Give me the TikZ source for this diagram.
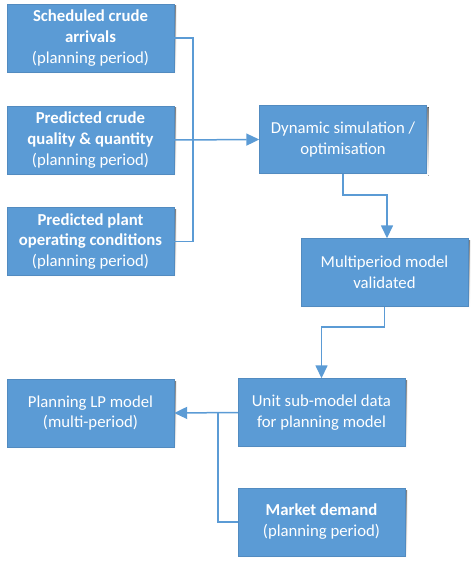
\documentclass[tikz,border=0pt]{standalone}
\usepackage{fontspec}
\setmainfont{Carlito}
\usetikzlibrary{arrows.meta}
\definecolor{boxblue}{HTML}{5B9BD5}
\definecolor{lineblue}{HTML}{5B9BD5}
\definecolor{shade}{HTML}{D5DDE5}
\tikzset{
  box/.style={rectangle, fill=boxblue, draw=boxblue!90!black, line width=0.4bp,
    minimum width=167bp, minimum height=68bp, inner sep=2bp, align=center,
    text=white, font=\fontsize{16.8}{21}\selectfont},
  conn/.style={draw=lineblue, line width=1.5bp},
  arr/.style={conn, -{Triangle[length=13bp,width=12bp]}}
}
\begin{document}
\begin{tikzpicture}[x=1bp,y=-1bp]
\useasboundingbox (0,0) rectangle (474,564);
% shadows
\foreach \cx/\cy in {90.5/38, 90.5/140, 90.5/241.5, 343/139.5, 384.5/272.5, 321.5/412.5, 90.5/413, 321.5/522}
  \fill[shade] (\cx-83.5+2,\cy-34+2) rectangle (\cx+83.5+2,\cy+34+2);
\node[box] (b1) at (90.5,38) {\textbf{Scheduled crude}\\\textbf{arrivals}\\(planning period)};
\node[box] (b2) at (90.5,140) {\textbf{Predicted crude}\\\textbf{quality \& quantity}\\(planning period)};
\node[box] (b3) at (90.5,241.5) {\textbf{Predicted plant}\\\textbf{operating conditions}\\(planning period)};
\node[box] (dyn) at (343,139.5) {Dynamic simulation /\\optimisation};
\node[box] (multi) at (384.5,272.5) {Multiperiod model\\validated};
\node[box] (unit) at (321.5,412.5) {Unit sub-model data\\for planning model};
\node[box] (lp) at (90.5,413) {Planning LP model\\(multi-period)};
\node[box] (mkt) at (321.5,522) {\textbf{Market demand}\\(planning period)};
\coordinate (j) at (193,140);
\coordinate (c1) at (343,195);
\coordinate (c2) at (384.5,327);
\coordinate (c3) at (218,413);
\draw[conn] (b1.east) -| (j);
\draw[conn] (b3.east) -| (j);
\draw[arr] (b2.east) -- (dyn.west);
\draw[arr] (dyn.south) -- (c1) -| ([xshift=2.5bp]multi.north);
\draw[arr] (multi.south) -- (c2) -| (unit.north);
\draw[arr] (unit.west) -- (lp.east);
\draw[conn] (mkt.west) -| (c3);
\end{tikzpicture}
\end{document}
